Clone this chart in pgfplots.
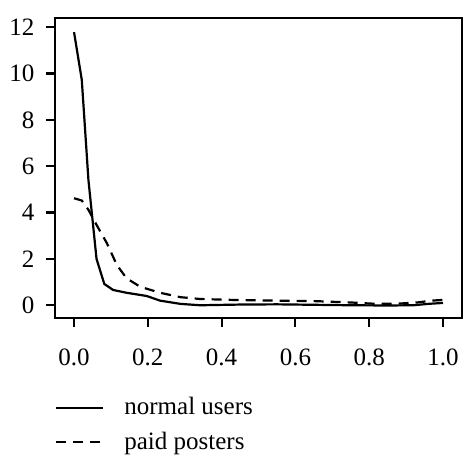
\documentclass[border=0pt]{standalone}
\usepackage{fontspec}
\setmainfont{Liberation Serif}
\usepackage{pgfplots}
\pgfplotsset{compat=1.18}

\begin{document}
\fontsize{25}{29}\selectfont
\begin{tikzpicture}[x=1pt,y=1pt]
\path[use as bounding box] (0,0) rectangle (474,474);
\begin{axis}[
    at={(55pt,156pt)}, anchor=south west,
    scale only axis, width=407pt, height=300pt,
    xmin=-0.0516, xmax=1.0516, ymin=-0.55, ymax=12.40,
    xtick={0,0.2,0.4,0.6,0.8,1},
    xticklabels={0.0,0.2,0.4,0.6,0.8,1.0},
    ytick={0,2,4,6,8,10,12},
    xtick pos=lower, ytick pos=left,
    tick align=outside, major tick length=9pt,
    tick style={line width=2.2pt, black},
    axis line style={line width=2.2pt},
    /pgf/number format/assume math mode=true,
    every tick label/.append style={font=\fontsize{25}{29}\selectfont},
    xticklabel style={yshift=-13pt},
    yticklabel style={xshift=-3pt},
    legend style={at={(0,-0.258)}, anchor=north west, draw=none, fill=none,
        inner sep=0pt, row sep=9pt, column sep=18pt,
        font=\fontsize{25}{29}\selectfont,
        legend cell align=left},
    legend image code/.code={\draw[#1] (0pt,0pt) -- (47pt,0pt);},
]
\addplot[black, line width=2.2pt] coordinates {
    (0.000,11.79) (0.021,9.73) (0.039,5.41) (0.061,2.00) (0.082,0.92)
    (0.106,0.66) (0.142,0.54) (0.197,0.40) (0.233,0.20) (0.288,0.06)
    (0.342,0.00) (0.45,0.03) (0.55,0.04) (0.65,0.02) (0.75,0.00)
    (0.85,-0.01) (0.92,0.00) (0.96,0.06) (1.000,0.10)
};
\addlegendentry{normal users}
\addplot[black, line width=2.2pt, dash pattern=on 10pt off 7pt] coordinates {
    (0.000,4.62) (0.021,4.52) (0.039,4.12) (0.061,3.47) (0.089,2.68)
    (0.116,1.74) (0.142,1.17) (0.179,0.80) (0.233,0.54) (0.288,0.35)
    (0.342,0.27) (0.43,0.23) (0.55,0.20) (0.65,0.18) (0.75,0.12)
    (0.82,0.06) (0.88,0.07) (0.93,0.12) (0.97,0.20) (1.000,0.23)
};
\addlegendentry{paid posters}
\end{axis}
\end{tikzpicture}
\end{document}
